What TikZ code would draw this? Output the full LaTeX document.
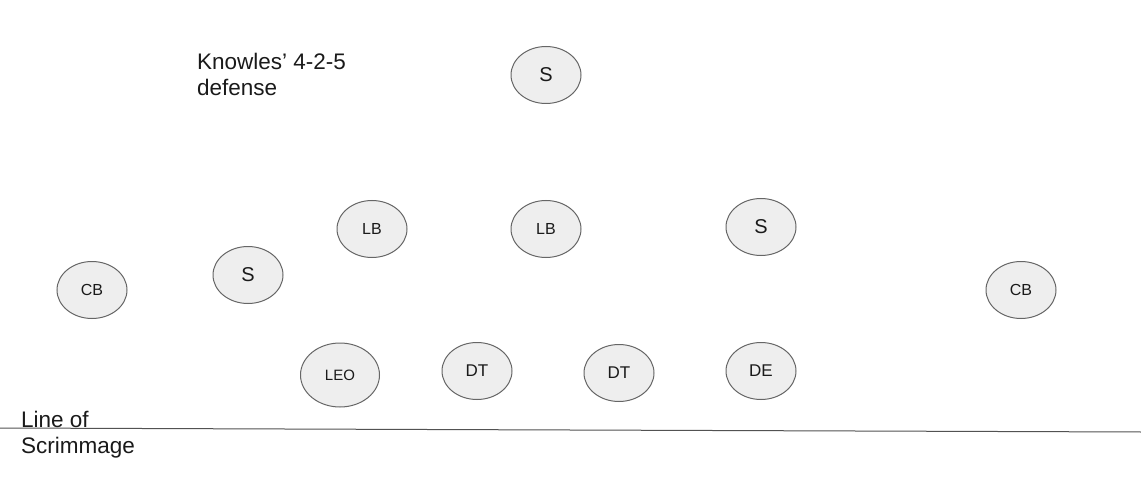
\documentclass[tikz,border=0pt]{standalone}
\usepackage{fontspec}
\setmainfont{Liberation Sans}
\usetikzlibrary{shapes.geometric}
\definecolor{pfill}{HTML}{EEEEEE}
\definecolor{pdraw}{HTML}{666666}
\definecolor{ink}{HTML}{1A1A1A}
\begin{document}
\begin{tikzpicture}[x=1pt,y=-1pt,
  player/.style={ellipse, draw=pdraw, fill=pfill, line width=1pt, inner sep=0pt,
    minimum width=70pt, minimum height=57pt, text=ink},
  small/.style={font=\fontsize{16}{19}\selectfont},
  big/.style={font=\fontsize{20}{23}\selectfont},
  label/.style={align=left, inner sep=0pt, text=ink, font=\fontsize{22.5}{26}\selectfont}]
\useasboundingbox (0,0) rectangle (1141,500);
\node[player, big] (s1) at (546,75) {S};
\node[player, small] (lb1) at (372,229) {LB};
\node[player, small] (lb2) at (546,229) {LB};
\node[player, big] (s3) at (761,227) {S};
\node[player, big] (s2) at (248,275) {S};
\node[player, small] (cb1) at (92,290) {CB};
\node[player, small] (cb2) at (1021,290) {CB};
\node[player, minimum width=79pt, minimum height=64pt, font=\fontsize{15}{18}\selectfont] (leo) at (340,375) {LEO};
\node[player, font=\fontsize{17}{20}\selectfont] (dt1) at (477,371) {DT};
\node[player, font=\fontsize{17}{20}\selectfont] (dt2) at (619,373) {DT};
\node[player, font=\fontsize{17}{20}\selectfont] (de) at (761,371) {DE};
\node[label, anchor=north west] (title) at (197,53) {Knowles’ 4-2-5\\defense};
\node[label, anchor=north west] (los) at (21,411) {Line of\\Scrimmage};
\coordinate (l0) at (0,428);
\coordinate (l1) at (1141,432);
\draw[pdraw!80!black, line width=1pt] (l0) -- (l1);
\end{tikzpicture}
\end{document}
